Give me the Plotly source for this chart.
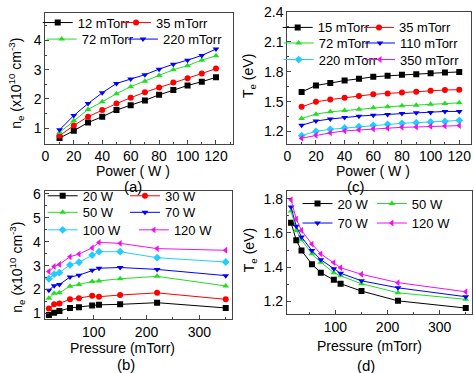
import plotly.graph_objects as go

# ---------------- data ----------------
power = [10, 20, 30, 40, 50, 60, 70, 80, 90, 100, 110, 120]
pressure = [15, 25, 35, 55, 72, 97, 110, 150, 220, 350]

# (a) n_e vs power
a_names = ["12 mTorr", "35 mTorr", "72 mTorr", "220 mTorr"]
a_12 = [0.66, 0.91, 1.19, 1.39, 1.62, 1.78, 1.95, 2.14, 2.31, 2.46, 2.59, 2.74]
a_35 = [0.74, 1.09, 1.39, 1.62, 1.84, 2.04, 2.23, 2.39, 2.56, 2.71, 2.87, 3.04]
a_72 = [0.85, 1.25, 1.64, 1.90, 2.18, 2.42, 2.61, 2.80, 3.00, 3.14, 3.33, 3.48]
a_220 = [0.94, 1.43, 1.84, 2.21, 2.53, 2.68, 2.83, 3.02, 3.19, 3.33, 3.49, 3.71]

# (c) T_e vs power
c_names = ["15 mTorr", "35 mTorr", "72 mTorr", "110 mTorr", "220 mTorr", "350 mTorr"]
c_15 = [1.597, 1.663, 1.686, 1.712, 1.729, 1.749, 1.759, 1.769, 1.775, 1.785, 1.792, 1.798]
c_35 = [1.448, 1.498, 1.521, 1.540, 1.557, 1.574, 1.583, 1.593, 1.600, 1.610, 1.617, 1.620]
c_72 = [1.332, 1.375, 1.398, 1.412, 1.425, 1.438, 1.448, 1.458, 1.464, 1.474, 1.481, 1.488]
c_110 = [1.263, 1.306, 1.326, 1.342, 1.355, 1.365, 1.372, 1.382, 1.388, 1.392, 1.402, 1.402]
c_220 = [1.160, 1.203, 1.223, 1.236, 1.250, 1.263, 1.273, 1.283, 1.289, 1.296, 1.302, 1.312]
c_350 = [1.134, 1.164, 1.187, 1.207, 1.217, 1.226, 1.233, 1.243, 1.246, 1.253, 1.256, 1.260]

# (b) n_e vs pressure
b_names = ["20 W", "30 W", "50 W", "70 W", "100 W", "120 W"]
b_20 = [0.93, 1.03, 1.10, 1.23, 1.26, 1.33, 1.36, 1.38, 1.45, 1.23]
b_30 = [1.21, 1.38, 1.42, 1.59, 1.64, 1.74, 1.70, 1.77, 1.86, 1.59]
b_50 = [1.63, 1.84, 1.86, 2.14, 2.21, 2.34, 2.36, 2.45, 2.55, 2.15]
b_70 = [1.97, 2.16, 2.21, 2.52, 2.60, 2.81, 2.89, 2.92, 2.84, 2.58]
b_100 = [2.45, 2.64, 2.71, 3.03, 3.14, 3.44, 3.58, 3.58, 3.33, 3.15]
b_120 = [2.75, 2.96, 3.05, 3.37, 3.48, 3.74, 3.97, 3.93, 3.71, 3.64]

# (d) T_e vs pressure
d_names = ["20 W", "50 W", "70 W", "120 W"]
d_20 = [1.660, 1.558, 1.497, 1.418, 1.368, 1.327, 1.304, 1.261, 1.204, 1.162]
d_50 = [1.728, 1.615, 1.560, 1.478, 1.429, 1.368, 1.350, 1.304, 1.251, 1.213]
d_70 = [1.751, 1.639, 1.577, 1.497, 1.444, 1.391, 1.365, 1.321, 1.280, 1.228]
d_120 = [1.794, 1.681, 1.615, 1.535, 1.478, 1.427, 1.397, 1.359, 1.310, 1.257]

# ---------------- styles ----------------
BLACK, RED, GREEN, BLUE, CYAN, MAG = "#000000", "#ff0000", "#22dd22", "#0000ff", "#22ccff", "#ee11ee"
SQ, CI, TU, TD, DI, TL = "square", "circle", "triangle-up", "triangle-down", "diamond", "triangle-left"

W, H = 474, 373
FONT = "Liberation Sans, Arial, sans-serif"
FRAME = "#444444"

def px(x0, x1):
    return [x0 / W, x1 / W]
def py(top, bottom):
    return [1 - bottom / H, 1 - top / H]

fig = go.Figure()
legends = {}
counter = [1]

def add(xs, ys, name, color, sym, xa, ya, text_x, row_y):
    counter[0] += 1
    key = "legend%d" % counter[0]
    fig.add_trace(go.Scatter(
        x=xs, y=ys, name=name, mode="lines+markers",
        line=dict(color=color, width=1),
        marker=dict(symbol=sym, color=color, size=6),
        xaxis=xa, yaxis=ya, legend=key, showlegend=True))
    legends[key] = dict(x=(text_x - 41) / W, y=1 - row_y / H, xanchor="left", yanchor="middle",
                        bgcolor="rgba(0,0,0,0)", borderwidth=0, itemwidth=30, visible=True,
                        font=dict(size=13, family=FONT, color="#000"))

# (a)  legend text start x / row centre y
a_pos = [(75, 15), (154, 15), (79, 32), (161, 32)]
for ys, n, c, s, p in zip([a_12, a_35, a_72, a_220], a_names, [BLACK, RED, GREEN, BLUE], [SQ, CI, TU, TD], a_pos):
    add(power, ys, n, c, s, "x", "y", *p)
# (c)
c_pos = [(317, 20), (399, 20), (318, 36), (400, 36), (318, 53), (400, 53)]
for ys, n, c, s, p in zip([c_15, c_35, c_72, c_110, c_220, c_350], c_names,
                          [BLACK, RED, GREEN, BLUE, CYAN, MAG], [SQ, CI, TU, TD, DI, TL], c_pos):
    add(power, ys, n, c, s, "x2", "y2", *p)
# (b)
b_pos = [(80, 193), (163, 193), (80, 210), (163, 210), (80, 228), (172, 228)]
for ys, n, c, s, p in zip([b_20, b_30, b_50, b_70, b_100, b_120], b_names,
                          [BLACK, RED, GREEN, BLUE, CYAN, MAG], [SQ, CI, TU, TD, DI, TL], b_pos):
    add(pressure, ys, n, c, s, "x3", "y3", *p)
# (d)
d_pos = [(337, 201), (412, 201), (337, 221), (412, 221)]
for ys, n, c, s, p in zip([d_20, d_50, d_70, d_120], d_names, [BLACK, GREEN, BLUE, MAG], [SQ, TU, TD, TL], d_pos):
    add(pressure, ys, n, c, s, "x4", "y4", *p)

def axis(domain, rng, dtick, tick0, anchor, minor_dtick):
    return dict(domain=domain, range=rng, dtick=dtick, tick0=tick0, anchor=anchor,
                showline=True, linecolor=FRAME, linewidth=1, mirror=True,
                ticks="inside", ticklen=4, tickcolor=FRAME, showgrid=False, zeroline=False,
                tickfont=dict(size=14, color="#000", family=FONT),
                minor=dict(ticks="inside", ticklen=2, dtick=minor_dtick, tickcolor=FRAME, showgrid=False))

layout = dict(
    width=W, height=H, margin=dict(l=0, r=0, t=0, b=0),
    paper_bgcolor="white", plot_bgcolor="white", showlegend=True,
    font=dict(family=FONT, color="#000"),
    xaxis=axis(px(41.7, 231), [0, 132], 20, 0, "y", 10),
    yaxis=axis(py(5, 139.3), [0.47, 4.95], 1, 0, "x", 0.5),
    xaxis2=axis(px(285.7, 470.7), [0, 128], 20, 0, "y2", 10),
    yaxis2=axis(py(4, 139.3), [1.08, 2.4], 0.3, 1.2, "x2", 0.15),
    xaxis3=axis(px(41, 230), [7, 362], 100, 0, "y3", 50),
    yaxis3=axis(py(188, 320), [0.75, 6.12], 1, 0, "x3", 0.5),
    xaxis4=axis(px(285.3, 472), [7, 362], 100, 0, "y4", 50),
    yaxis4=axis(py(188, 314.3), [1.128, 1.845], 0.2, 1.2, "x4", 0.1),
)
layout.update(legends)
fig.update_layout(**layout)

def ann(text, x, y, size=14, angle=0):
    fig.add_annotation(text=text, x=x / W, y=1 - y / H, xref="paper", yref="paper",
                       showarrow=False, textangle=angle, xanchor="center", yanchor="middle",
                       font=dict(size=size, family=FONT, color="#000"))

ann("Power ( W )", 130, 168)
ann("(a)", 130, 183, size=15)
ann("Power ( W )", 372, 168)
ann("(c)", 355, 183, size=15)
ann("Pressure (mTorr)", 120, 349)
ann("(b)", 123, 366, size=15)
ann("Pressure (mTorr)", 369, 347)
ann("(d)", 365, 367, size=15)
ne = "n<sub>e</sub> (x10<sup>10</sup> cm<sup>-3</sup>)"
te = "T<sub>e</sub> (eV)"
ann(ne, 12, 77, angle=-90)
ann(te, 247, 70, angle=-90)
ann(ne, 13, 266, angle=-90)
ann(te, 248, 249, angle=-90)

fig.write_html("out.html", config={"displayModeBar": False},
               post_script="document.body.style.margin='0';document.body.style.padding='0';")
